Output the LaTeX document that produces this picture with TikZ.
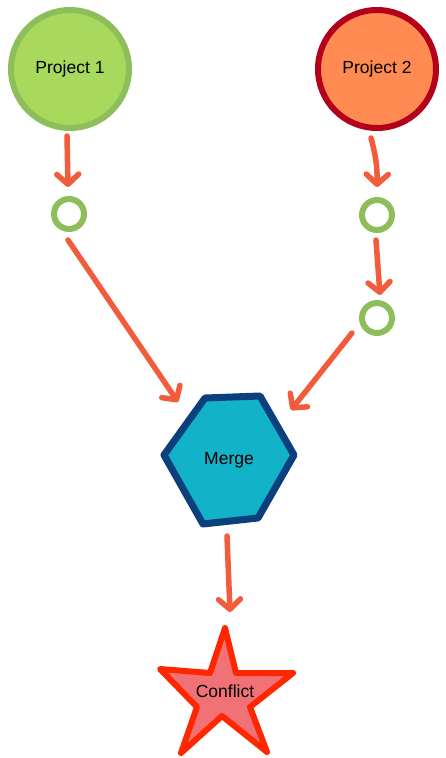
\documentclass[tikz,border=0pt]{standalone}
\usepackage{fontspec}
\setmainfont{Liberation Sans}
\usetikzlibrary{arrows.meta}
\definecolor{arrowc}{HTML}{F25C3C}
\definecolor{pone}{HTML}{A8D85C}
\definecolor{ponel}{HTML}{8DBE5A}
\definecolor{ptwo}{HTML}{FF8A52}
\definecolor{ptwol}{HTML}{B3001B}
\definecolor{hexf}{HTML}{12B2C8}
\definecolor{hexl}{HTML}{0B3F7E}
\definecolor{starf}{HTML}{F07276}
\definecolor{starl}{HTML}{FF2600}
\tikzset{
  arr/.style={draw=arrowc, line width=5.5pt, line cap=round,
    -{Straight Barb[length=10pt,width=22pt,line width=5.5pt,round]}},
  bigcirc/.style={circle, minimum size=118pt, line width=6pt, font=\fontsize{17.5}{20}\selectfont},
  smallcirc/.style={circle, draw=ponel, line width=6pt, minimum size=30pt, inner sep=0pt},
  lbl/.style={font=\fontsize{17.5}{20}\selectfont, inner sep=0pt}
}
\begin{document}
\begin{tikzpicture}[x=1pt,y=-1pt]
\useasboundingbox (0,0) rectangle (446,758);
% big circles
\node[bigcirc, draw=ponel, fill=pone] (p1) at (70,69) {Project 1};
\node[bigcirc, draw=ptwol, fill=ptwo] (p2) at (377,69) {Project 2};
% small circles
\node[smallcirc] (c1) at (69,214) {};
\node[smallcirc] (c2) at (377,215) {};
\node[smallcirc] (c3) at (377,318) {};
% hexagon
\draw[draw=hexl, fill=hexf, line width=7pt, line join=round]
  (164,455) -- (205,398) -- (260,396) -- (294,455) -- (258,518) -- (203,524) -- cycle;
\node[lbl] (merge) at (229,460) {Merge};
% star
\draw[draw=starl, fill=starf, line width=6pt, line join=round]
  (225,628) -- (236,673) -- (293,673) -- (250,707) -- (267,752) -- (222,716)
  -- (181,753) -- (197,707) -- (160,669) -- (210,673) -- cycle;
\node[lbl] (conflict) at (225,691) {Conflict};
% arrow endpoints
\coordinate (a1s) at (67,136); \coordinate (a1e) at (68,187);
\coordinate (a2s) at (371,138); \coordinate (a2e) at (377,187);
\coordinate (a3s) at (376,240); \coordinate (a3e) at (380,295);
\coordinate (a4s) at (68,240); \coordinate (a4e) at (178,402);
\coordinate (a5s) at (352,333); \coordinate (a5e) at (291,410);
\coordinate (a6s) at (227,536); \coordinate (a6e) at (230,612);
\draw[arr] (a1s) -- (a1e);
\draw[arr] (a2s) to[bend left=8] (a2e);
\draw[arr] (a3s) -- (a3e);
\draw[arr] (a4s) -- (a4e);
\draw[arr] (a5s) -- (a5e);
\draw[arr] (a6s) -- (a6e);
\end{tikzpicture}
\end{document}
